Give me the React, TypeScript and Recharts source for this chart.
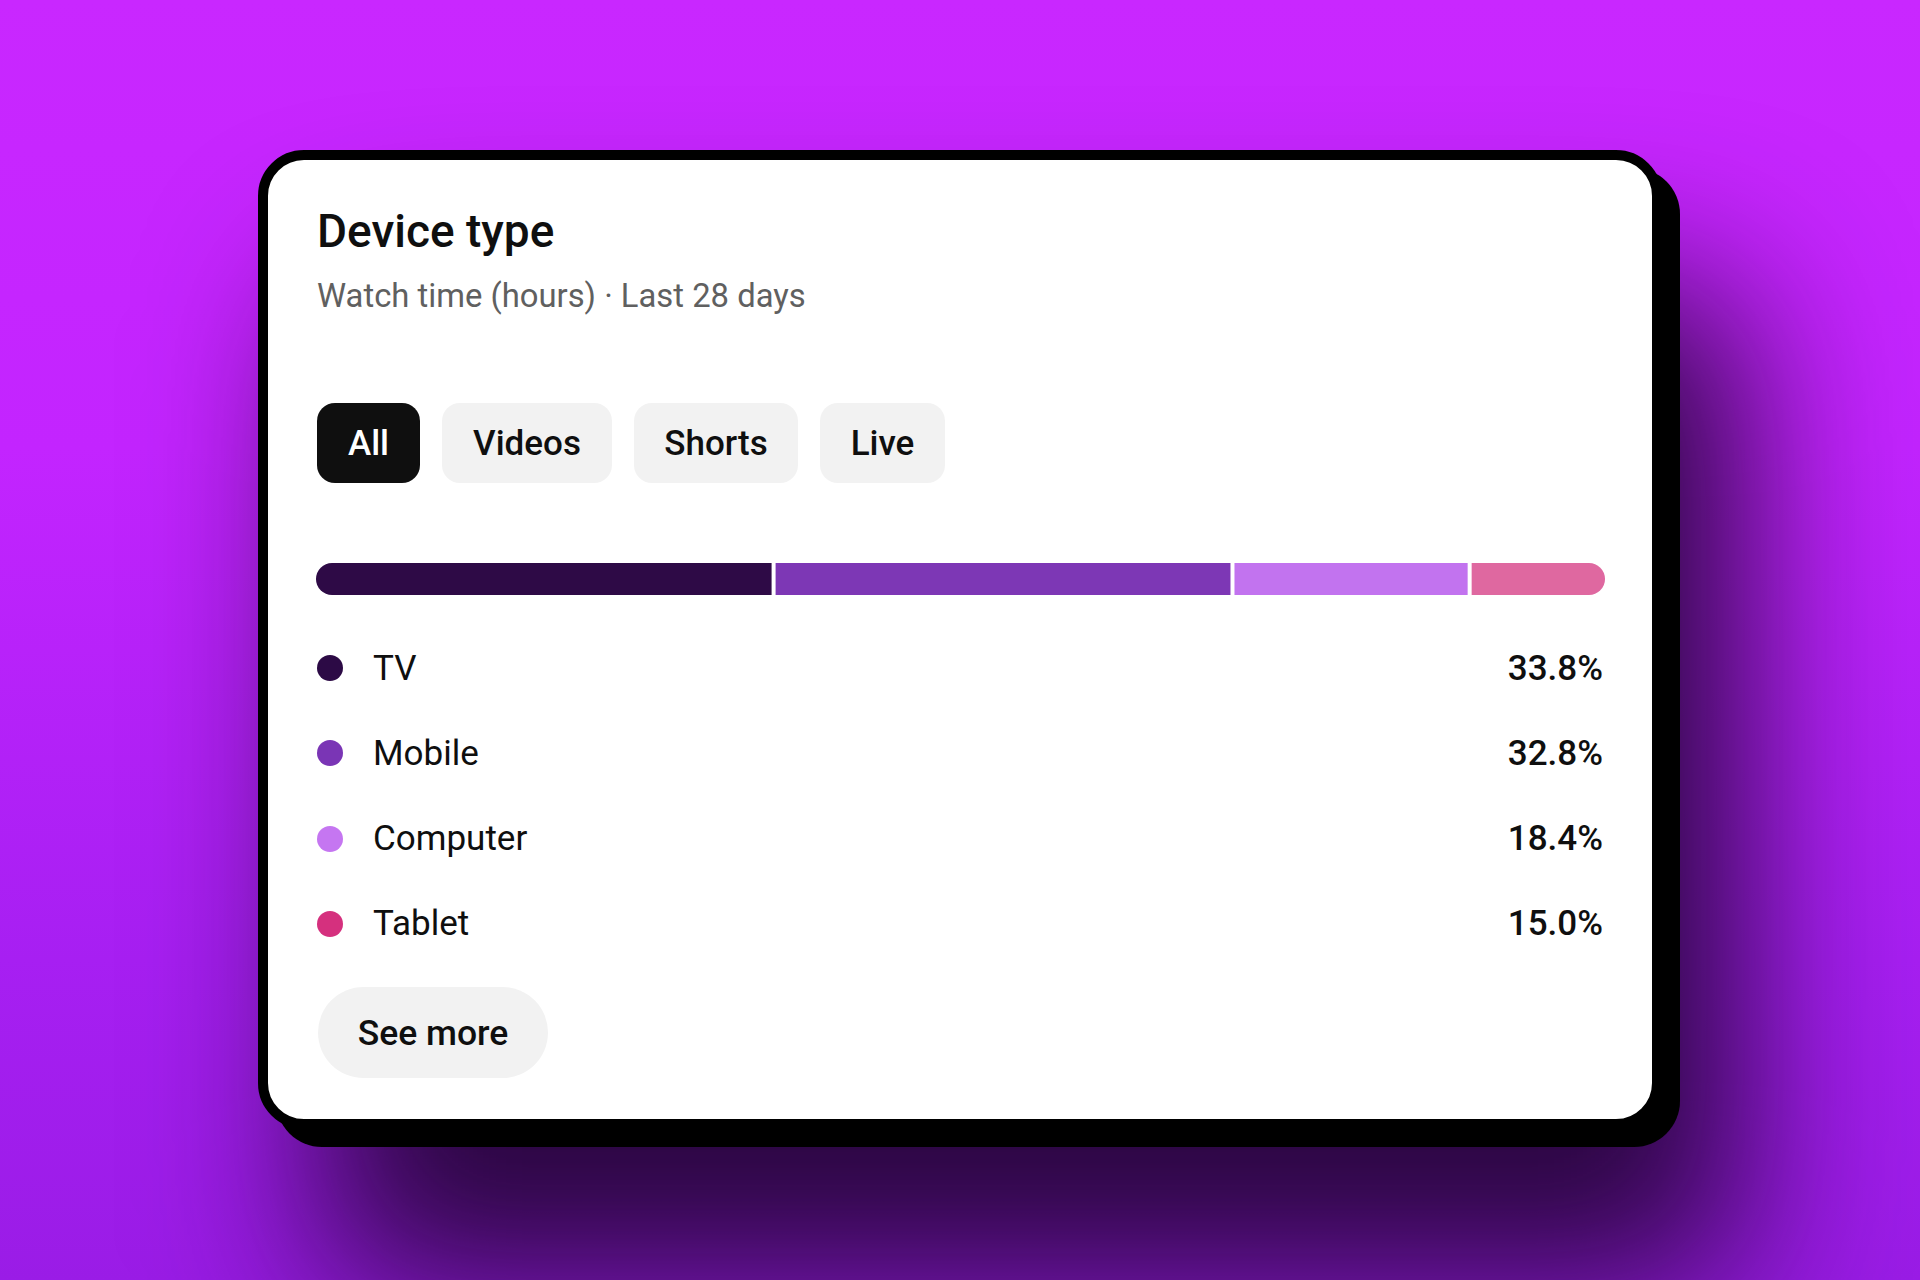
import React from "react";
import { BarChart, Bar, XAxis, YAxis } from "recharts";

const devices = ["TV", "Mobile", "Computer", "Tablet"];
const sharePercents = [33.8, 32.8, 18.4, 15.0];
// segment lengths as drawn in the stacked bar
const barShares = [35.5, 35.6, 18.4, 10.5];
const barColors = ["#2E0A46", "#7D37B5", "#C273EF", "#DF68A0"];
const dotColors = ["#2C0A45", "#7A35B5", "#C576F1", "#D5307E"];
const filterTabs = ["All", "Videos", "Shorts", "Live"];
const tabWidths = [103, 170, 164, 125];
const titleText = "Device type";
const subtitleText = "Watch time (hours) · Last 28 days";
const moreText = "See more";

const barRow: Record<string, number | string> = { name: "share" };
devices.forEach((d, i) => {
  barRow[d] = barShares[i];
});
const barData = [barRow];
const barTotal = barShares.reduce((a, b) => a + b, 0);

const FONT = "Roboto, 'Noto Sans', Arial, sans-serif";

function segmentShape(p: any, i: number, last: number) {
  const gap = 2;
  const x0 = p.x + (i === 0 ? 0 : gap);
  const x1 = p.x + p.width - (i === last ? 0 : gap);
  const y0 = p.y;
  const y1 = p.y + p.height;
  const r = p.height / 2;
  let d = "";
  if (i === 0) {
    d = `M${x0 + r},${y0} L${x1},${y0} L${x1},${y1} L${x0 + r},${y1} A${r},${r} 0 0 1 ${x0 + r},${y0} Z`;
  } else if (i === last) {
    d = `M${x0},${y0} L${x1 - r},${y0} A${r},${r} 0 0 1 ${x1 - r},${y1} L${x0},${y1} Z`;
  } else {
    d = `M${x0},${y0} L${x1},${y0} L${x1},${y1} L${x0},${y1} Z`;
  }
  return <path d={d} fill={p.fill} />;
}

export default function App() {
  const last = devices.length - 1;
  return (
    <div
      style={{
        position: "absolute",
        left: 0,
        top: 0,
        width: 1920,
        height: 1280,
        overflow: "hidden",
        background: "linear-gradient(180deg, #C927FF 0%, #C324FF 35%, #A71FF2 75%, #9A1CE6 100%)",
        fontFamily: FONT,
      }}
    >
      <div
        style={{
          position: "absolute",
          left: 258,
          top: 150,
          width: 1384,
          height: 959,
          border: "10px solid #000",
          borderRadius: 46,
          background: "#fff",
          boxShadow: "18px 18px 0 0 #000, 70px 150px 170px 10px rgba(38,6,58,0.97)",
        }}
      >
        <div
          style={{
            position: "absolute",
            left: 49,
            top: 48,
            fontSize: 46,
            lineHeight: "46px",
            fontWeight: 500,
            color: "#0F0F0F",
            whiteSpace: "nowrap",
          }}
        >
          {titleText}
        </div>
        <div
          style={{
            position: "absolute",
            left: 49,
            top: 120,
            fontSize: 32.8,
            lineHeight: "32.8px",
            fontWeight: 400,
            color: "#606060",
            whiteSpace: "nowrap",
          }}
        >
          {subtitleText}
        </div>
        <div style={{ position: "absolute", left: 49, top: 243, display: "flex", gap: 22 }}>
          {filterTabs.map((t, i) => (
            <div
              key={t}
              style={{
                width: tabWidths[i],
                height: 80,
                borderRadius: 18,
                background: i === 0 ? "#0F0F0F" : "#F2F2F2",
                color: i === 0 ? "#FFFFFF" : "#0F0F0F",
                display: "flex",
                alignItems: "center",
                justifyContent: "center",
                fontSize: 35,
                fontWeight: 500,
              }}
            >
              {t}
            </div>
          ))}
        </div>
        <div style={{ position: "absolute", left: 48, top: 395 }}>
          <BarChart
            width={1289}
            height={48}
            data={barData}
            layout="vertical"
            margin={{ top: 0, right: 0, bottom: 0, left: 0 }}
            barCategoryGap={0}
          >
            <XAxis type="number" hide domain={[0, barTotal]} />
            <YAxis type="category" dataKey="name" hide />
            {devices.map((d, i) => (
              <Bar
                key={d}
                dataKey={d}
                stackId="s"
                fill={barColors[i]}
                barSize={32}
                isAnimationActive={false}
                shape={(p: any) => segmentShape(p, i, last)}
              />
            ))}
          </BarChart>
        </div>
        {devices.map((d, i) => (
          <div
            key={d}
            style={{
              position: "absolute",
              left: 49,
              right: 49,
              top: 508 + i * 85.3 - 20,
              height: 40,
              display: "flex",
              alignItems: "center",
            }}
          >
            <div
              style={{
                width: 26,
                height: 26,
                borderRadius: 13,
                background: dotColors[i],
                flex: "0 0 26px",
              }}
            />
            <div
              style={{
                marginLeft: 30,
                fontSize: 35,
                fontWeight: 400,
                color: "#0F0F0F",
                flex: 1,
                whiteSpace: "nowrap",
              }}
            >
              {d}
            </div>
            <div style={{ fontSize: 35, fontWeight: 500, color: "#0F0F0F" }}>
              {sharePercents[i].toFixed(1) + "%"}
            </div>
          </div>
        ))}
        <div
          style={{
            position: "absolute",
            left: 50,
            top: 827,
            width: 230,
            height: 91,
            borderRadius: 46,
            background: "#F2F2F2",
            display: "flex",
            alignItems: "center",
            justifyContent: "center",
            fontSize: 35.5,
            fontWeight: 500,
            color: "#0F0F0F",
          }}
        >
          {moreText}
        </div>
      </div>
    </div>
  );
}
